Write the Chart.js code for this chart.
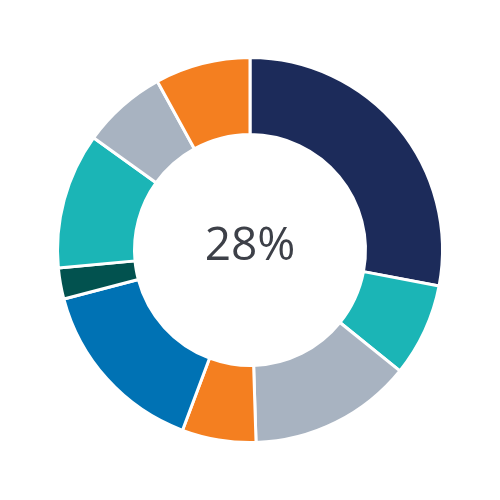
<!DOCTYPE html>
<html>
<head>
<meta charset="utf-8">
<script src="https://cdn.jsdelivr.net/npm/chart.js@4"></script>
<style>
  html, body { margin: 0; padding: 0; background: #fff; }
  #wrap { width: 500px; height: 500px; position: relative; }
</style>
</head>
<body>
<div id="wrap"><canvas id="donut"></canvas></div>
<script>
// slice shares, clockwise from 12 o'clock
const labels = ['A', 'B', 'C', 'D', 'E', 'F', 'G', 'H', 'I'];
const values = [28, 7.8, 13.7, 6.2, 15.2, 2.6, 11.4, 7.1, 8.0];
const colors = ['#1c2b5a', '#1bb5b6', '#a8b3c1', '#f47f20', '#0072b4', '#02524f', '#1bb5b6', '#a8b3c1', '#f47f20'];
const centerLabel = '28%';

const ctx = document.getElementById('donut').getContext('2d');

new Chart(ctx, {
    type: 'doughnut',
    data: {
        labels: labels,
        datasets: [{
            data: values,
            backgroundColor: colors,
            borderColor: '#ffffff',
            borderWidth: 3
        }]
    },
    options: {
        responsive: true,
        maintainAspectRatio: false,
        animation: false,
        cutout: '60%',
        layout: { padding: 56 },
        plugins: {
            legend: { display: false },
            tooltip: { enabled: false }
        }
    },
    plugins: [{
        // 가운데 퍼센트 텍스트
        id: 'centerText',
        afterDraw(chart) {
            const { ctx, chartArea } = chart;
            const x = (chartArea.left + chartArea.right) / 2;
            const y = (chartArea.top + chartArea.bottom) / 2;
            ctx.save();
            ctx.fillStyle = '#3d4048';
            ctx.font = "46px 'Open Sans', sans-serif";
            ctx.textAlign = 'center';
            ctx.textBaseline = 'middle';
            ctx.fillText(centerLabel, x, y - 3);
            ctx.restore();
        }
    }]
});
</script>
</body>
</html>
